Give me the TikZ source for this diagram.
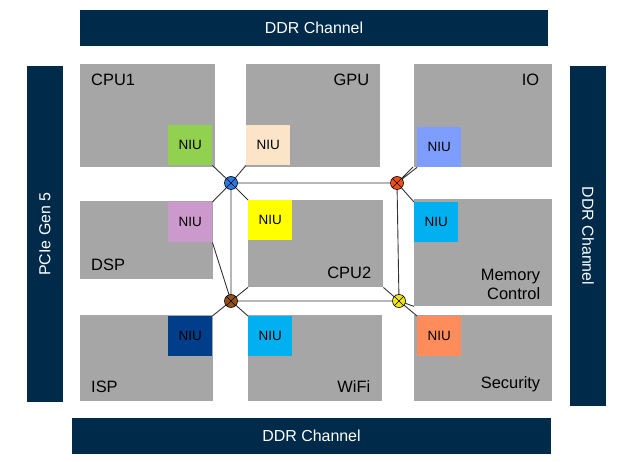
\documentclass[tikz,border=0pt]{standalone}
\usepackage{fontspec}
\setmainfont{Liberation Sans}
\begin{document}
\begin{tikzpicture}[x=1bp,y=-1bp,
  bar/.style={fill=barc,draw=none,text=white,font=\fontsize{16}{18}\selectfont,inner sep=0},
  blk/.style={fill=blkc,draw=none,inner sep=0,anchor=north west},
  niu/.style={draw=none,inner sep=0,anchor=north west,minimum width=44bp,minimum height=40bp,font=\fontsize{13.5}{15}\selectfont},
  lbl/.style={font=\fontsize{16.5}{19}\selectfont,inner sep=0,align=right},
  sw/.style={circle,draw=black,line width=0.6pt,minimum size=13bp,inner sep=0,path picture={\draw[line width=0.6pt] (path picture bounding box.north west)--(path picture bounding box.south east) (path picture bounding box.north east)--(path picture bounding box.south west);}},
  ln/.style={line width=0.9pt,draw=black!80}]
\definecolor{barc}{HTML}{002A4A}
\definecolor{blkc}{HTML}{A6A6A6}
\useasboundingbox (0,0) rectangle (620,462);
% bars
\node[bar,minimum width=468bp,minimum height=36bp] (top) at (314,28) {DDR Channel};
\node[bar,minimum width=479bp,minimum height=36bp] (bot) at (311.5,436) {DDR Channel};
\node[bar,minimum width=336bp,minimum height=36bp,rotate=90] (left) at (45,234) {PCIe Gen 5};
\node[bar,minimum width=340bp,minimum height=36bp,rotate=-90] (right) at (588,236) {DDR Channel};
% blocks
\node[blk,minimum width=135bp,minimum height=103bp] (cpu1) at (80,64) {};
\node[blk,minimum width=134bp,minimum height=103bp] (gpu) at (246,64) {};
\node[blk,minimum width=138bp,minimum height=103bp] (io) at (414,64) {};
\node[blk,minimum width=133bp,minimum height=78bp] (dsp) at (80,201) {};
\node[blk,minimum width=135bp,minimum height=87bp] (cpu2) at (248,200) {};
\node[blk,minimum width=138bp,minimum height=107bp] (mc) at (414,199) {};
\node[blk,minimum width=133bp,minimum height=86bp] (isp) at (80,315) {};
\node[blk,minimum width=134bp,minimum height=86bp] (wifi) at (248,315) {};
\node[blk,minimum width=138bp,minimum height=86bp] (sec) at (414,315) {};
% labels
\node[lbl,anchor=north west] (lcpu1) at ([xshift=11bp,yshift=-10bp]cpu1.north west) {CPU1};
\node[lbl,anchor=north east] (lgpu) at ([xshift=-11bp,yshift=-10bp]gpu.north east) {GPU};
\node[lbl,anchor=north east] (lio) at ([xshift=-13bp,yshift=-10bp]io.north east) {IO};
\node[lbl,anchor=south west] (ldsp) at ([xshift=11bp,yshift=9bp]dsp.south west) {DSP};
\node[lbl,anchor=south east] (lcpu2) at ([xshift=-12bp,yshift=9bp]cpu2.south east) {CPU2};
\node[lbl,anchor=south east] (lmc) at ([xshift=-12bp,yshift=7bp]mc.south east) {Memory\\Control};
\node[lbl,anchor=south west] (lisp) at ([xshift=11bp,yshift=9bp]isp.south west) {ISP};
\node[lbl,anchor=south east] (lwifi) at ([xshift=-12bp,yshift=9bp]wifi.south east) {WiFi};
\node[lbl,anchor=south east] (lsec) at ([xshift=-12bp,yshift=9bp]sec.south east) {Security};
% NIUs
\node[niu,fill={rgb,255:red,146;green,208;blue,80}] (n1) at (168,125) {NIU};
\node[niu,fill={rgb,255:red,252;green,228;blue,200}] (n2) at (246,125) {NIU};
\node[niu,fill={rgb,255:red,125;green,158;blue,255}] (n3) at (417,127) {NIU};
\node[niu,fill={rgb,255:red,204;green,153;blue,204}] (n4) at (168,202) {NIU};
\node[niu,fill={rgb,255:red,255;green,255;blue,0}] (n5) at (248,200) {NIU};
\node[niu,fill={rgb,255:red,0;green,176;blue,240}] (n6) at (414,202) {NIU};
\node[niu,fill={rgb,255:red,0;green,62;blue,140},text=black] (n7) at (168,316) {NIU};
\node[niu,fill={rgb,255:red,0;green,176;blue,240}] (n8) at (248,316) {NIU};
\node[niu,fill={rgb,255:red,255;green,140;blue,90}] (n9) at (417,316) {NIU};
% switches
\coordinate (pa) at (231,183);
\coordinate (pb) at (397,183);
\coordinate (pc) at (231,301);
\coordinate (pd) at (399,301);
\draw[ln] (pa)--(pb)--(pd)--(pc)--cycle;
\draw[ln] (pa)--(n1.south east) (pa)--(n2.south west) (pa)--(n4.north east) (pa)--(n5.north west);
\draw[ln] (pb)--(n3.south west) (pb)--(n6.north west) (pb)--([xshift=16bp,yshift=16bp]pb);
\draw[ln] (pc)--(n4.south east) (pc)--(n7.north east) (pc)--(n8.north west) (pc)--(cpu2.south west);
\draw[ln] (pd)--(n9.north west) (pd)--(mc.south west) (pd)--(cpu2.south east);
\node[sw,fill={rgb,255:red,40;green,120;blue,230}] (sa) at (pa) {};
\node[sw,fill={rgb,255:red,240;green,80;blue,20}] (sb) at (pb) {};
\node[sw,fill={rgb,255:red,150;green,80;blue,20}] (sc) at (pc) {};
\node[sw,fill={rgb,255:red,240;green,230;blue,20}] (sd) at (pd) {};
\end{tikzpicture}
\end{document}
